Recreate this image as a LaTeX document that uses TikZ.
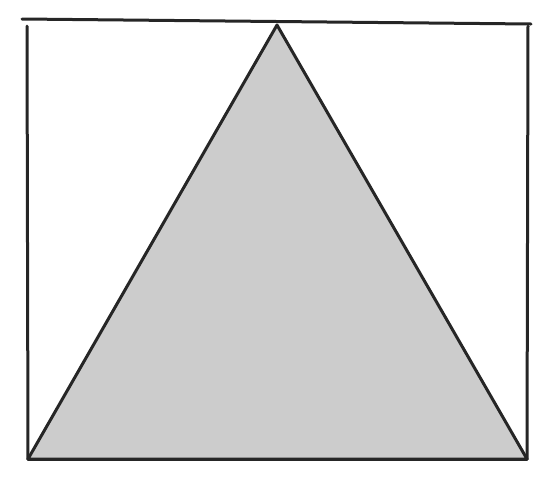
\documentclass[tikz,border=0pt]{standalone}
\begin{document}
\begin{tikzpicture}[x=1pt,y=-1pt,
  edge/.style={draw=black!85,line width=3pt,line cap=round,line join=round},
  tri/.style={fill=black!20,draw=black!85,line width=3pt,line join=round}]
\useasboundingbox (0,0) rectangle (550,491);
\coordinate (TL) at (22,19);
\coordinate (TR) at (531,24);
\coordinate (BL) at (28,459);
\coordinate (BR) at (527,459);
\coordinate (A) at (277,25);
\coordinate (LT) at (27,26);
\coordinate (RT) at (528,26);
\path[tri] (BL) -- (A) -- (BR) -- cycle;
\draw[edge] (TL) -- (TR);
\draw[edge] (LT) -- (BL);
\draw[edge] (RT) -- (BR);
\draw[edge] (BL) -- (BR);
\end{tikzpicture}
\end{document}
